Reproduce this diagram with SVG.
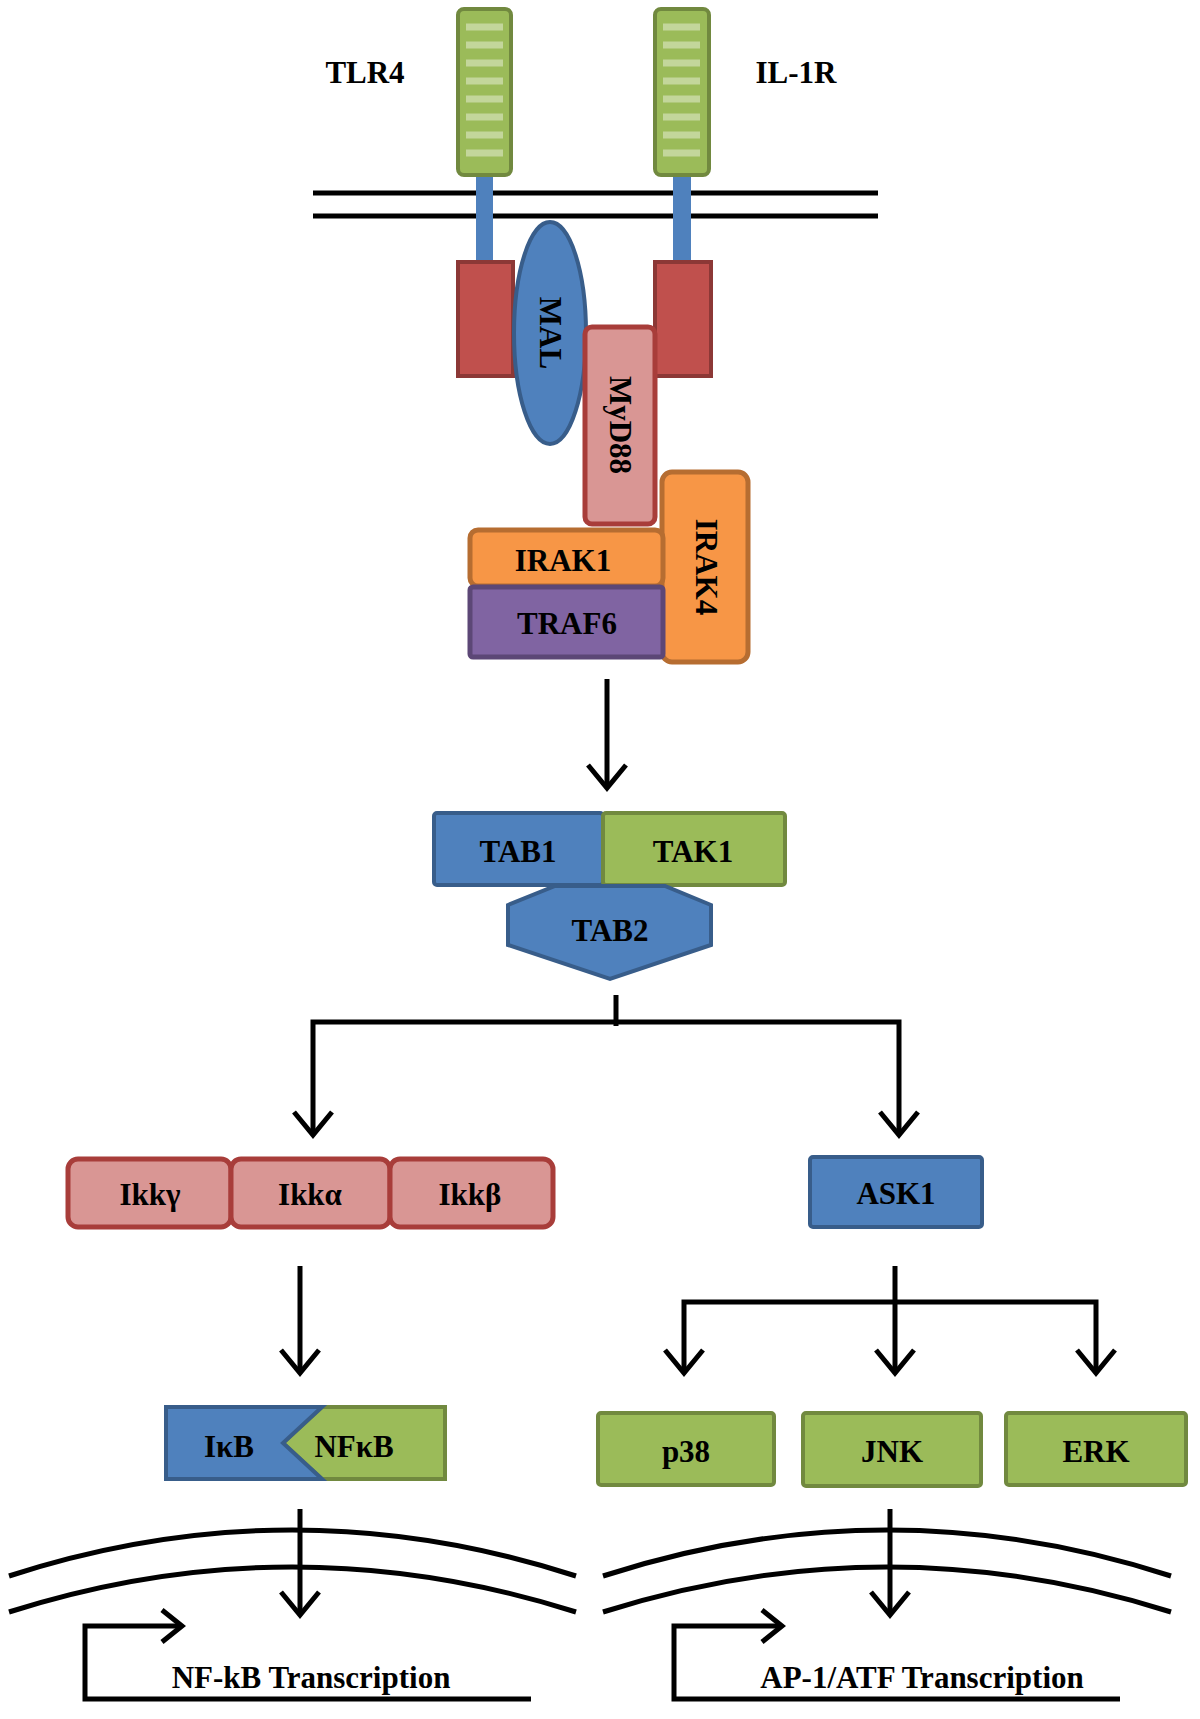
<svg xmlns="http://www.w3.org/2000/svg" width="1200" height="1719" viewBox="0 0 1200 1719">
<style>
text{font-family:"Liberation Serif",serif;font-weight:bold;font-size:31px;fill:#000;text-anchor:middle;dominant-baseline:central}
.ln{stroke:#000;stroke-width:5;fill:none}
.g{fill:#9bbb59;stroke:#71893f;stroke-width:4}
.b{fill:#4f81bd;stroke:#385d8a;stroke-width:4}
.r{fill:#c0504d;stroke:#8c3836;stroke-width:4}
.p{fill:#d99694;stroke:#a83d3a;stroke-width:5}
.o{fill:#f79646;stroke:#b66d31;stroke-width:5}
.v{fill:#8064a2;stroke:#5c4776;stroke-width:5}
.st{stroke:#c3d69b;stroke-width:7}
</style>
<defs>
<marker id="ah" markerWidth="12" markerHeight="12" refX="8" refY="6" orient="auto" markerUnits="userSpaceOnUse" viewBox="0 0 12 12"><path d="M1,0 L9,6 L1,12" fill="none" stroke="#000" stroke-width="0"/></marker>
<g id="stripes"><line x1="8" x2="45" y1="18" y2="18" class="st"/><line x1="8" x2="45" y1="36" y2="36" class="st"/><line x1="8" x2="45" y1="54" y2="54" class="st"/><line x1="8" x2="45" y1="72" y2="72" class="st"/><line x1="8" x2="45" y1="90" y2="90" class="st"/><line x1="8" x2="45" y1="108" y2="108" class="st"/><line x1="8" x2="45" y1="126" y2="126" class="st"/><line x1="8" x2="45" y1="144" y2="144" class="st"/></g>
</defs>
<g id="membrane"><line x1="313" y1="193" x2="878" y2="193" class="ln" stroke-width="4"/><line x1="313" y1="216" x2="878" y2="216" class="ln" stroke-width="4"/></g>
<g id="tlr4">
<rect x="476" y="170" width="17" height="94" fill="#4f81bd"/>
<rect x="458" y="9" width="53" height="166" rx="6" class="g"/>
<use href="#stripes" x="458" y="9"/>
<rect x="458" y="262" width="55" height="114" class="r"/>
<text x="365" y="72">TLR4</text>
</g>
<g id="il1r">
<rect x="673" y="170" width="18" height="94" fill="#4f81bd"/>
<rect x="655" y="9" width="54" height="166" rx="6" class="g"/>
<use href="#stripes" x="655" y="9"/>
<rect x="655" y="262" width="56" height="114" class="r"/>
<text x="796" y="72">IL-1R</text>
</g>
<g id="mal"><ellipse cx="550" cy="333" rx="36" ry="111" class="b"/><text transform="translate(550,333) rotate(90)">MAL</text></g>
<g id="myd88"><rect x="585" y="327" width="70" height="197" rx="7" class="p"/><text transform="translate(620,425) rotate(90)">MyD88</text></g>
<g id="irak4"><rect x="662" y="472" width="86" height="190" rx="10" class="o"/><text transform="translate(706,567) rotate(90)">IRAK4</text></g>
<g id="irak1"><rect x="470" y="530" width="193" height="56" rx="8" class="o"/><text x="563" y="560">IRAK1</text></g>
<g id="traf6"><rect x="470" y="587" width="193" height="70" rx="3" class="v"/><text x="567" y="623">TRAF6</text></g>
<g id="tab1"><rect x="434" y="813" width="169" height="72" rx="3" class="b"/><text x="518" y="851">TAB1</text></g>
<g id="tak1"><rect x="603" y="813" width="182" height="72" rx="3" class="g"/><text x="693" y="851">TAK1</text></g>
<g id="tab2"><polygon points="508,905 555,886 665,886 711,905 711,945 610,979 508,945" class="b"/><text x="610" y="930">TAB2</text></g>
<g id="ikk">
<rect x="68" y="1159" width="163" height="68" rx="10" class="p"/><text x="150" y="1194">Ikkγ</text>
<rect x="231" y="1159" width="159" height="68" rx="10" class="p"/><text x="310" y="1194">Ikkα</text>
<rect x="390" y="1159" width="163" height="68" rx="10" class="p"/><text x="470" y="1194">Ikkβ</text>
</g>
<g id="ask1"><rect x="810" y="1157" width="172" height="70" rx="3" class="b"/><text x="896" y="1193">ASK1</text></g>
<g id="ikb-nfkb">
<polygon points="322,1407 445,1407 445,1479 322,1479 283,1443" class="g"/>
<polygon points="166,1407 322,1407 283,1443 322,1479 166,1479" class="b"/>
<text x="229" y="1446">IκB</text><text x="354" y="1446">NFκB</text>
</g>
<g id="p38"><rect x="598" y="1413" width="176" height="72" rx="3" class="g"/><text x="686" y="1451">p38</text></g>
<g id="jnk"><rect x="803" y="1413" width="178" height="73" rx="3" class="g"/><text x="892" y="1451">JNK</text></g>
<g id="erk"><rect x="1006" y="1413" width="180" height="72" rx="3" class="g"/><text x="1096" y="1451">ERK</text></g>
<g id="nucleus">
<path d="M9,1576 Q292,1484 576,1576" class="ln" stroke-width="4"/>
<path d="M9,1612 Q292,1522 576,1612" class="ln" stroke-width="4"/>
<path d="M603,1576 Q887,1484 1171,1576" class="ln" stroke-width="4"/>
<path d="M603,1612 Q887,1522 1171,1612" class="ln" stroke-width="4"/>
</g>
<g id="connectors" class="ln">
<line x1="607" y1="679" x2="607" y2="786"/><path d="M588,765 L607,788 L626,765"/>
<line x1="616" y1="995" x2="616" y2="1026"/>
<path d="M313,1135 V1022 H899 V1135"/>
<path d="M294,1112 L313,1135 L332,1112"/><path d="M880,1112 L899,1135 L918,1112"/>
<line x1="300" y1="1266" x2="300" y2="1371"/><path d="M281,1350 L300,1373 L319,1350"/>
<line x1="895" y1="1266" x2="895" y2="1371"/>
<path d="M684,1371 V1302 H1096 V1371"/>
<path d="M665,1350 L684,1373 L703,1350"/><path d="M876,1350 L895,1373 L914,1350"/><path d="M1077,1350 L1096,1373 L1115,1350"/>
<line x1="300" y1="1509" x2="300" y2="1613"/><path d="M281,1592 L300,1615 L319,1592"/>
<line x1="890" y1="1509" x2="890" y2="1613"/><path d="M871,1592 L890,1615 L909,1592"/>
<path d="M531,1699 H85 V1626 H180"/><path d="M162,1610 L182,1626 L162,1642"/>
<path d="M1120,1699 H674 V1626 H780"/><path d="M762,1610 L782,1626 L762,1642"/>
</g>
<text x="311" y="1677">NF-kB Transcription</text>
<text x="922" y="1677">AP-1/ATF Transcription</text>
</svg>
